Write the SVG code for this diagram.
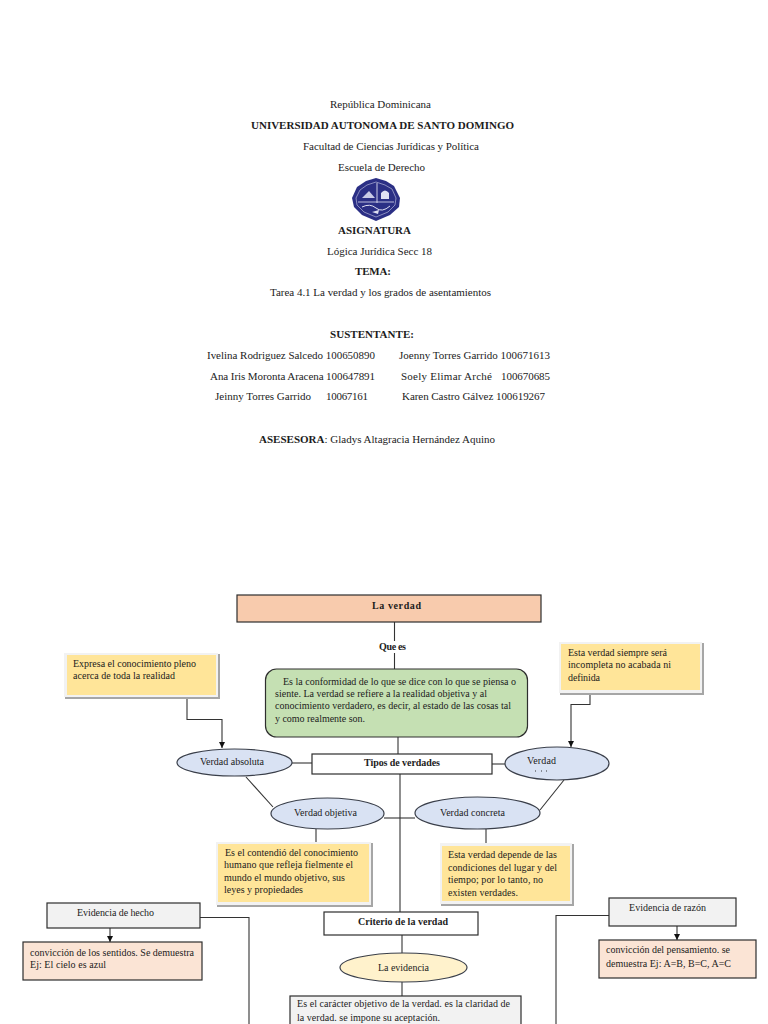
<svg xmlns="http://www.w3.org/2000/svg" width="768" height="1024" viewBox="0 0 768 1024">
<style>
text{font-family:"Liberation Serif","Times New Roman",serif;fill:#1c1c1c}
.h{font-size:11px}
.d{font-size:10px}
.b{font-weight:bold}
.box{stroke:#2e2e2e;stroke-width:1.2}
.ell{stroke:#3a3f4a;stroke-width:1.2}
.c{fill:none;stroke:#333;stroke-width:1.1}
.sh{fill:#a6a6a6}
.fr{fill:#f2f2f2}
.ye{fill:#ffe599}
.gr{fill:#f2f2f2}
.pe{fill:#fbe4d5}
.bl{fill:#d9e2f3}
</style>
<defs>
<marker id="ar" markerWidth="6" markerHeight="6" refX="6" refY="3" orient="auto" markerUnits="userSpaceOnUse" viewBox="0 0 6 6"><path d="M0 0L6 3L0 6Z" fill="#111"/></marker>
</defs>
<rect width="768" height="1024" fill="#fff"/>
<g id="portada">
<text class="h" x="330" y="108" textLength="101">República Dominicana</text>
<text class="h b" x="251" y="129" textLength="263">UNIVERSIDAD AUTONOMA DE SANTO DOMINGO</text>
<text class="h" x="303" y="150" textLength="176">Facultad de Ciencias Jurídicas y Política</text>
<text class="h" x="338" y="171" textLength="87">Escuela de Derecho</text>
<g id="escudo">
<path d="M376 178L386 181L394 186L400 198L399 207L390 215L376 221L362 215L354 207L352 198L357 187L366 181Z" fill="#2b2f85"/>
<path d="M376 182L385 185L392 189L396 198L395 205L388 212L376 217L364 212L357 205L356 198L360 190L367 185Z" fill="none" stroke="#c9cbe6" stroke-width="0.6"/>
<path d="M377 183V203" stroke="#dfe0f2" stroke-width="0.9"/>
<path d="M358 202H394" stroke="#dfe0f2" stroke-width="0.8"/>
<path d="M362 198L369 191L375 198Z" fill="#c9cbe6"/>
<path d="M381 199V193Q385 188 389 193V199Z" fill="#dfe0f2"/>
<path d="M362 207Q370 203 376 208T390 206" fill="none" stroke="#dfe0f2" stroke-width="1"/>
<path d="M372 212L379 210L378 214Z" fill="#dfe0f2"/>
</g>
<text class="h b" x="338" y="234" textLength="73">ASIGNATURA</text>
<text class="h" x="327" y="255" textLength="105">Lógica Jurídica Secc 18</text>
<text class="h b" x="355" y="275" textLength="36">TEMA:</text>
<text class="h" x="270" y="296" textLength="221">Tarea 4.1 La verdad y los grados de asentamientos</text>
<text class="h b" x="330" y="338" textLength="84">SUSTENTANTE:</text>
<text class="h" x="207" y="359" textLength="168">Ivelina Rodriguez Salcedo 100650890</text>
<text class="h" x="399" y="359" textLength="151">Joenny Torres Garrido 100671613</text>
<text class="h" x="210" y="380" textLength="165">Ana Iris Moronta Aracena 100647891</text>
<text class="h" x="401" y="380" textLength="91">Soely Elimar Arché</text>
<text class="h" x="501" y="380" textLength="49">100670685</text>
<text class="h" x="215" y="400" textLength="96">Jeinny Torres Garrido</text>
<text class="h" x="326" y="400" textLength="42">10067161</text>
<text class="h" x="402" y="400" textLength="143">Karen Castro Gálvez 100619267</text>
<text class="h" x="259" y="443" textLength="236"><tspan class="b">ASESESORA</tspan>: Gladys Altagracia Hernández Aquino</text>
</g>
<g id="conectores">
<path class="c" d="M394.500 622V669"/>
<path class="c" d="M398 737V754"/>
<path class="c" d="M292 763H312"/>
<path class="c" d="M492 764H505"/>
<path class="c" d="M400 774V912"/>
<path class="c" d="M246 777L273 807"/>
<path class="c" d="M564 780L540 810"/>
<path class="c" d="M384 818H415"/>
<path class="c" d="M316 829V842"/>
<path class="c" d="M486 829V843"/>
<path class="c" d="M402 935V953"/>
<path class="c" d="M402 982V996"/>
<path class="c" d="M187 698V719.500H222V748" marker-end="url(#ar)"/>
<path class="c" d="M590 694V704.500H571V747" marker-end="url(#ar)"/>
<path class="c" d="M110 928V942" marker-end="url(#ar)"/>
<path class="c" d="M677 926V940" marker-end="url(#ar)"/>
<path class="c" d="M200 917.500H249V1024"/>
<path class="c" d="M609 915.500H556V1024"/>
</g>
<g id="la-verdad"><rect class="box" x="237" y="595" width="304" height="27" fill="#f8cbad"/>
<text class="d b" x="372" y="609" textLength="49">La verdad</text></g>
<g id="que-es"><rect x="378" y="641" width="30" height="12" fill="#fff"/>
<text class="d b" x="379" y="650" textLength="27">Que es</text></g>
<g id="definicion"><rect class="box" x="265.500" y="669" width="262" height="68" rx="11" fill="#c5e0b3"/>
<text class="d" x="283" y="685" textLength="233">Es la conformidad de lo que se dice con lo que se piensa o</text>
<text class="d" x="275" y="697" textLength="212">siente. La verdad se refiere a la realidad objetiva y al</text>
<text class="d" x="275" y="709" textLength="236">conocimiento verdadero, es decir, al estado de las cosas tal</text>
<text class="d" x="275" y="722" textLength="90">y como realmente son.</text></g>
<g id="nota-absoluta"><rect class="sh" x="65" y="654" width="155" height="45"/><rect class="fr" x="64" y="653" width="154" height="44"/><rect class="ye" x="67" y="655" width="149" height="40"/>
<text class="d" x="73" y="667" textLength="123">Expresa el conocimiento pleno</text>
<text class="d" x="73" y="679" textLength="102">acerca de toda la realidad</text></g>
<g id="nota-relativa"><rect class="sh" x="560" y="643" width="144" height="52"/><rect class="fr" x="559" y="642" width="143" height="51"/><rect class="ye" x="561" y="644" width="139" height="46"/>
<text class="d" x="568" y="656" textLength="99">Esta verdad siempre será</text>
<text class="d" x="568" y="668" textLength="103">incompleta no acabada ni</text>
<text class="d" x="568" y="681" textLength="32">definida</text></g>
<g id="verdad-absoluta"><ellipse class="ell bl" cx="234.500" cy="762.500" rx="57.500" ry="13.500"/>
<text class="d" x="200" y="765" textLength="64">Verdad absoluta</text></g>
<g id="tipos"><rect class="box" x="312" y="754" width="180" height="20" fill="#fff"/>
<text class="d b" x="364" y="766" textLength="76">Tipos de verdades</text></g>
<g id="verdad-relativa"><ellipse class="ell bl" cx="557" cy="763.500" rx="52" ry="16.500"/>
<text class="d" x="527" y="764" textLength="29">Verdad</text>
<path d="M535 771h1M541 771h1M546 771h1" stroke="#333" stroke-width="1"/></g>
<g id="verdad-objetiva"><ellipse class="ell bl" cx="327.500" cy="813.500" rx="56.500" ry="15.500"/>
<text class="d" x="294" y="816" textLength="63">Verdad objetiva</text></g>
<g id="verdad-concreta"><ellipse class="ell bl" cx="477.500" cy="813" rx="62.500" ry="16"/>
<text class="d" x="440" y="816" textLength="65">Verdad concreta</text></g>
<g id="nota-objetiva"><rect class="sh" x="217" y="843" width="156" height="64"/><rect class="fr" x="216" y="842" width="155" height="63"/><rect class="ye" x="218" y="844" width="151" height="58"/>
<text class="d" x="225" y="856" textLength="133">Es el contendió del conocimiento</text>
<text class="d" x="224" y="868" textLength="129">humano que refleja fielmente el</text>
<text class="d" x="224" y="881" textLength="121">mundo el mundo objetivo, sus</text>
<text class="d" x="224" y="893" textLength="79">leyes y propiedades</text></g>
<g id="nota-concreta"><rect class="sh" x="441" y="844" width="133" height="62"/><rect class="fr" x="440" y="843" width="132" height="61"/><rect class="ye" x="442" y="846" width="128" height="55"/>
<text class="d" x="448" y="858" textLength="109">Esta verdad depende de las</text>
<text class="d" x="448" y="871" textLength="109">condiciones del lugar y del</text>
<text class="d" x="448" y="883" textLength="95">tiempo; por lo tanto, no</text>
<text class="d" x="448" y="896" textLength="70">existen verdades.</text></g>
<g id="evidencia-hecho"><rect class="box gr" x="47" y="903" width="153" height="25"/>
<text class="d" x="77" y="916" textLength="77">Evidencia de hecho</text></g>
<g id="conviccion-sentidos"><rect class="box pe" x="23" y="942" width="179" height="38"/>
<text class="d" x="30" y="956" textLength="164">convicción de los sentidos. Se demuestra</text>
<text class="d" x="30" y="968" textLength="76">Ej: El cielo es azul</text></g>
<g id="criterio"><rect class="box" x="324" y="912" width="154" height="23" fill="#fff"/>
<text class="d b" x="358" y="925" textLength="90">Criterio de la verdad</text></g>
<g id="la-evidencia"><ellipse class="ell" cx="403.500" cy="967.500" rx="63.500" ry="14.500" fill="#fff2cc"/>
<text class="d" x="378" y="971" textLength="51">La evidencia</text></g>
<g id="caracter"><rect class="box gr" x="290" y="996" width="231" height="40"/>
<text class="d" x="297" y="1007" textLength="213">Es el carácter objetivo de la verdad.  es la claridad de</text>
<text class="d" x="297" y="1021" textLength="143">la verdad. se impone su aceptación.</text></g>
<g id="evidencia-razon"><rect class="box gr" x="609" y="898" width="127" height="28"/>
<text class="d" x="629" y="911" textLength="77">Evidencia de razón</text></g>
<g id="conviccion-pensamiento"><rect class="box pe" x="599" y="940" width="157" height="38"/>
<text class="d" x="606" y="953" textLength="124">convicción del pensamiento. se</text>
<text class="d" x="606" y="967" textLength="125">demuestra Ej: A=B, B=C, A=C</text></g>
</svg>
